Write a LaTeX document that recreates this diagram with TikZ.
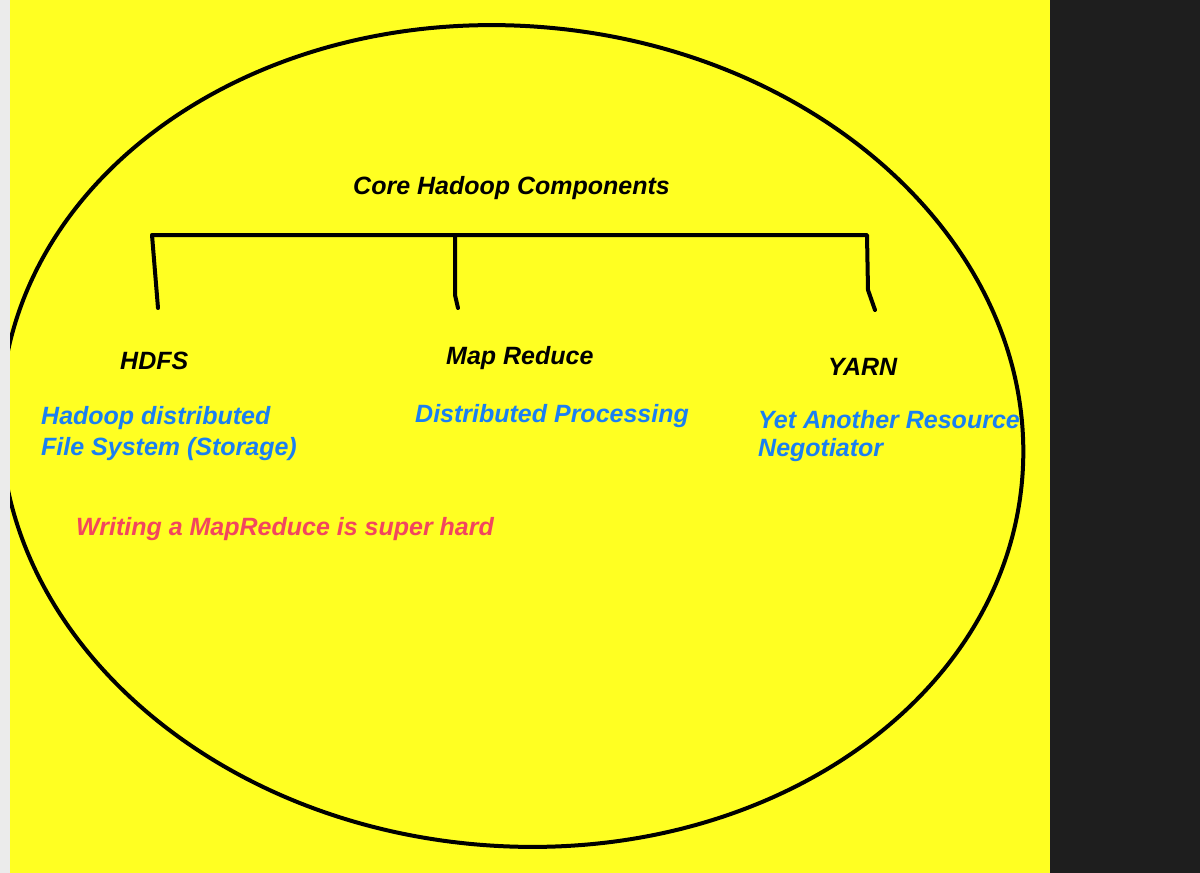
\documentclass[tikz,border=0pt]{standalone}
\usepackage{fontspec}
\setmainfont{Liberation Sans}
\begin{document}
\begin{tikzpicture}[x=1pt,y=-1pt,
  lbl/.style={font=\fontsize{25}{29}\selectfont\bfseries\itshape, inner sep=0pt, anchor=west},
  bluet/.style={lbl, text=blueT},
  stroke/.style={line width=4pt, line cap=round, line join=round}]
\definecolor{yel}{HTML}{FFFF22}
\definecolor{dark}{HTML}{1E1E1E}
\definecolor{blueT}{HTML}{1A7FF2}
\definecolor{redT}{HTML}{F2465E}
\useasboundingbox (0,0) rectangle (1200,873);
\fill[white!92!black] (0,0) rectangle (10,873);
\fill[yel] (10,0) rectangle (1050,873);
\fill[dark] (1050,0) rectangle (1200,873);
\begin{scope}
\clip (10,0) rectangle (1050,873);
\draw[stroke, rotate around={-5:(512,436)}] (512,436) ellipse [x radius=512, y radius=410];
\end{scope}
\node[lbl] (core) at (353,188) {Core Hadoop Components};
\coordinate (l0) at (152,235);
\coordinate (r0) at (867,235);
\coordinate (m0) at (455,235);
\coordinate (la) at (158,308);
\coordinate (ma) at (455,295);
\coordinate (mb) at (458,308);
\coordinate (ra) at (868,290);
\coordinate (rb) at (875,310);
\draw[stroke] (la) -- (l0) -- (r0) -- (ra) -- (rb);
\draw[stroke] (m0) -- (ma) -- (mb);
\node[lbl] (hdfs) at (120,361) {HDFS};
\node[lbl] (mr) at (446,358) {Map Reduce};
\node[lbl] (yarn) at (828,367) {YARN};
\node[bluet] (h1) at (41,418) {Hadoop distributed};
\node[bluet] (h2) at (41,449) {File System (Storage)};
\node[bluet] (m1) at (415,416) {Distributed Processing};
\node[bluet] (y1) at (758,420) {Yet Another Resource};
\node[bluet] (y2) at (758,450) {Negotiator};
\node[lbl, text=redT] (note) at (76,529) {Writing a MapReduce is super hard};
\end{tikzpicture}
\end{document}
